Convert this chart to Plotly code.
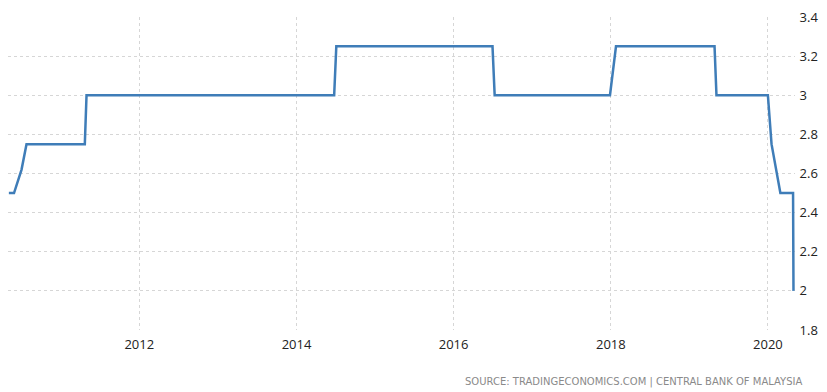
import plotly.graph_objects as go

dates = [
    "2010-05-05", "2010-05-29", "2010-07-03", "2010-07-26",
    "2011-04-23", "2011-05-01",
    "2014-06-25", "2014-07-05",
    "2016-06-30", "2016-07-10",
    "2017-12-28", "2018-01-25",
    "2019-04-28", "2019-05-07",
    "2020-01-01", "2020-01-18", "2020-02-28", "2020-04-27", "2020-04-29",
]
rates = [
    2.5, 2.5, 2.62, 2.75,
    2.75, 3.0,
    3.0, 3.25,
    3.25, 3.0,
    3.0, 3.25,
    3.25, 3.0,
    3.0, 2.75, 2.5, 2.5, 2.0,
]
x_ticks = ["2012-01-01", "2014-01-01", "2016-01-01", "2018-01-01", "2020-01-01"]
x_tick_labels = ["2012", "2014", "2016", "2018", "2020"]
y_ticks = [1.8, 2, 2.2, 2.4, 2.6, 2.8, 3, 3.2, 3.4]
y_tick_labels = ["1.8", "2", "2.2", "2.4", "2.6", "2.8", "3", "3.2", "3.4"]
source = "SOURCE: TRADINGECONOMICS.COM | CENTRAL BANK OF MALAYSIA"

fig = go.Figure()
fig.add_trace(go.Scatter(
    x=dates, y=rates, mode="lines",
    line=dict(color="#3f7db8", width=2.5),
    hoverinfo="skip",
))

grid = "#d6d6d6"
fig.update_layout(
    width=827, height=392,
    margin=dict(l=8, r=32, t=13, b=62),
    paper_bgcolor="white", plot_bgcolor="white",
    showlegend=False,
    font=dict(family="Open Sans", size=13, color="#222"),
    xaxis=dict(
        type="date",
        range=["2010-05-01", "2020-05-06"],
        tickvals=x_ticks, ticktext=x_tick_labels,
        showgrid=True, gridcolor=grid, griddash="dot", gridwidth=1,
        zeroline=False, showline=False,
        ticks="outside", ticklen=2, tickcolor="rgba(0,0,0,0)",
        tickfont=dict(size=13, color="#222"),
    ),
    yaxis=dict(
        side="right",
        range=[1.8, 3.4],
        tickvals=y_ticks, ticktext=y_tick_labels,
        showgrid=True, gridcolor=grid, griddash="dot", gridwidth=1,
        zeroline=False, showline=False,
        ticks="outside", ticklen=1, tickcolor="rgba(0,0,0,0)",
        tickfont=dict(size=13, color="#222"),
    ),
    annotations=[dict(
        text=source, xref="paper", yref="paper",
        x=1.0, y=-0.165, xanchor="right", yanchor="middle",
        showarrow=False,
        font=dict(family="DejaVu Sans", size=10, color="#8a8a8a"),
        xshift=10,
    )],
)
fig.write_html("out.html")
